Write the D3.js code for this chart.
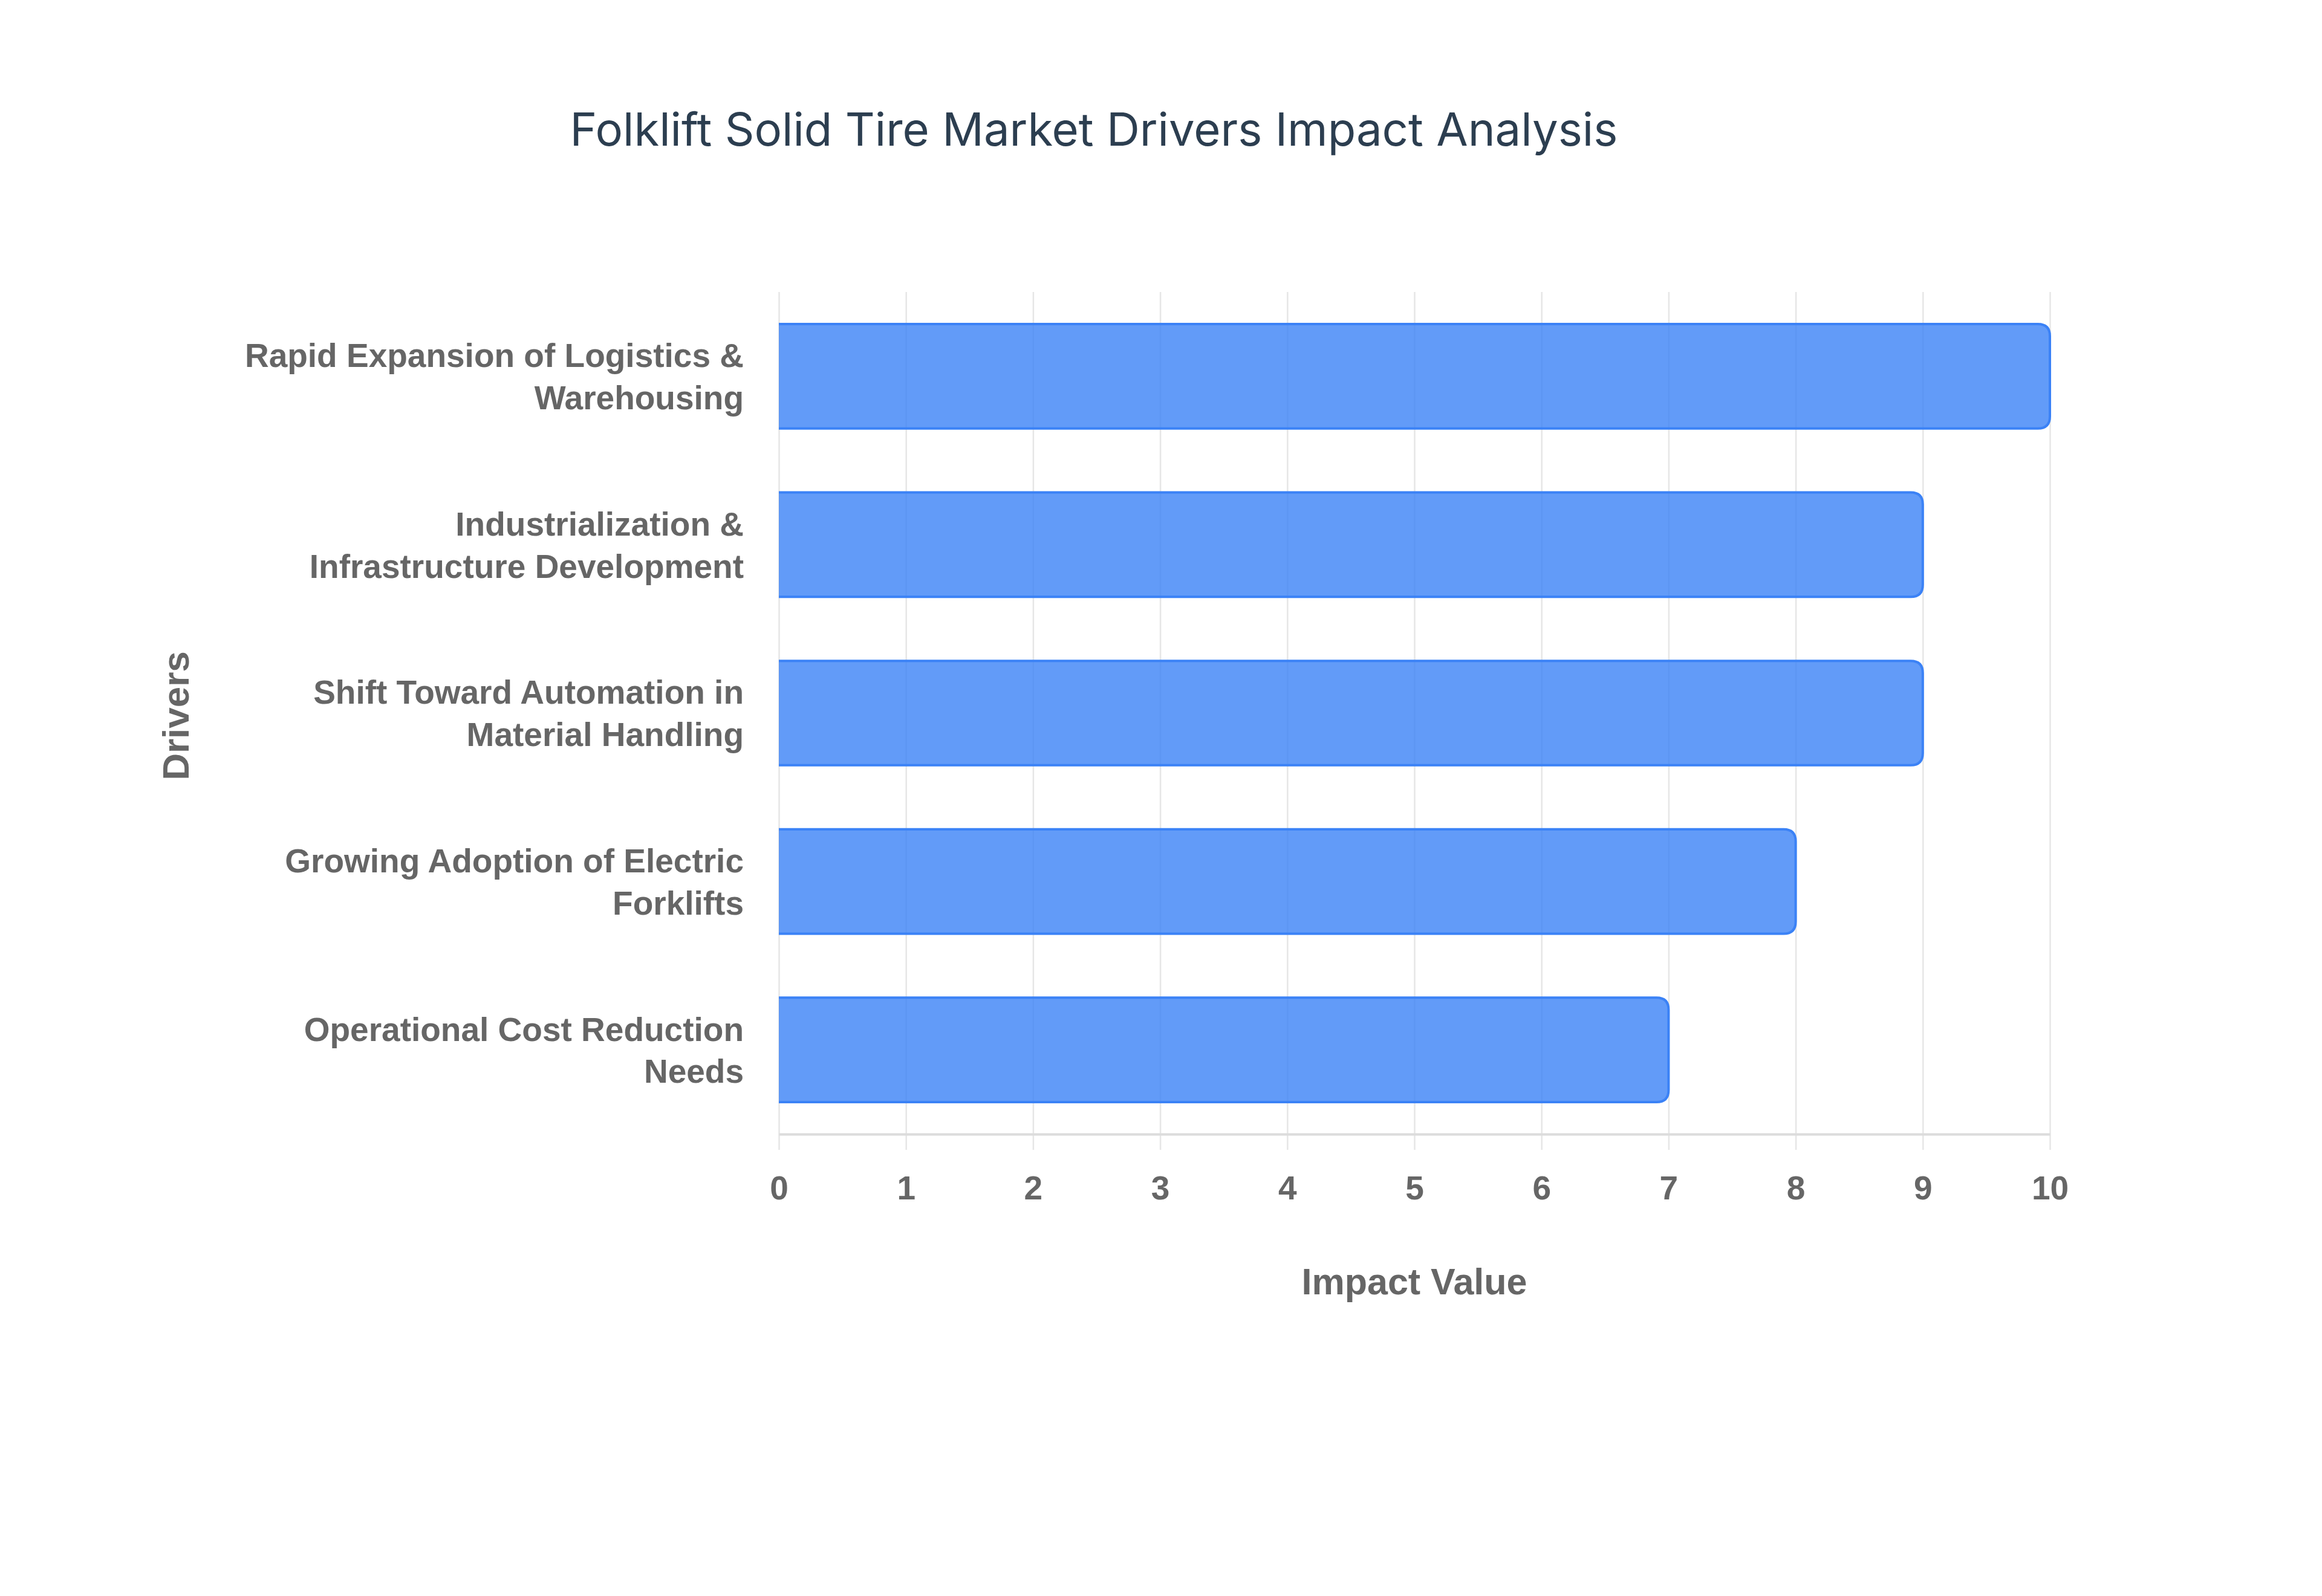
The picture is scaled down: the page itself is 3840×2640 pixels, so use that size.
<!DOCTYPE html>
<html>
<head>
<meta charset="utf-8">
<script src="https://cdn.jsdelivr.net/npm/d3@7"></script>
<style>
  html, body { margin: 0; padding: 0; background: #ffffff; }
  svg { display: block; }
</style>
</head>
<body>
<script>
// data
const drivers = [
    ['Rapid Expansion of Logistics &', 'Warehousing'],
    ['Industrialization &', 'Infrastructure Development'],
    ['Shift Toward Automation in', 'Material Handling'],
    ['Growing Adoption of Electric', 'Forklifts'],
    ['Operational Cost Reduction', 'Needs']
];
const impactValues = [10, 9, 9, 8, 7];
const xTicks = [0, 1, 2, 3, 4, 5, 6, 7, 8, 9, 10];

const chartTitle = 'Folklift Solid Tire Market Drivers Impact Analysis';
const xTitle = 'Impact Value';
const yTitle = 'Drivers';

// layout
const WIDTH = 3840;
const HEIGHT = 2640;
const PLOT = { left: 1288, right: 3390, top: 483, bottom: 1876 };
const LABEL_FONT = '"Liberation Sans", Arial, Helvetica, sans-serif';
const GREY = '#666666';

const svg = d3.select('body').append('svg')
    .attr('width', WIDTH)
    .attr('height', HEIGHT);

svg.append('rect')
    .attr('width', WIDTH)
    .attr('height', HEIGHT)
    .attr('fill', '#ffffff');

const rows = drivers.map((lines, i) => ({ key: lines.join(' '), lines: lines, value: impactValues[i] }));

const x = d3.scaleLinear().domain([0, 10]).range([PLOT.left, PLOT.right]);
const y = d3.scaleBand()
    .domain(rows.map(r => r.key))
    .range([PLOT.top, PLOT.bottom])
    .paddingInner(0.38)
    .paddingOuter(0.19);

// vertical grid lines (run a little past the axis as tick marks)
const grid = svg.append('g')
    .attr('transform', `translate(0,${PLOT.bottom + 26})`)
    .call(d3.axisBottom(x).tickValues(xTicks).tickFormat('')
        .tickSize(-(PLOT.bottom + 26 - PLOT.top)).tickSizeOuter(0));
grid.select('.domain').remove();
grid.selectAll('.tick line')
    .attr('stroke', '#e6e6e6')
    .attr('stroke-width', 2.5);

// bars, rounded at the value end only
const R = 20;
function barPath(d) {
    const x0 = x(0), x1 = x(d.value);
    const y0 = y(d.key), h = y.bandwidth();
    return `M${x0},${y0}H${x1 - R}Q${x1},${y0} ${x1},${y0 + R}` +
        `V${y0 + h - R}Q${x1},${y0 + h} ${x1 - R},${y0 + h}H${x0}Z`;
}
function barOutline(d) {
    const x0 = x(0), x1 = x(d.value);
    const y0 = y(d.key), h = y.bandwidth();
    return `M${x0},${y0}H${x1 - R}Q${x1},${y0} ${x1},${y0 + R}` +
        `V${y0 + h - R}Q${x1},${y0 + h} ${x1 - R},${y0 + h}H${x0}`;
}

const bars = svg.append('g').selectAll('g').data(rows).enter().append('g');
bars.append('path')
    .attr('d', barPath)
    .attr('fill', 'rgba(59,130,246,0.8)');
bars.append('path')
    .attr('d', barOutline)
    .attr('fill', 'none')
    .attr('stroke', 'rgb(59,130,246)')
    .attr('stroke-width', 4);

// x axis: baseline + tick labels
const xAxis = svg.append('g')
    .attr('transform', `translate(0,${PLOT.bottom})`)
    .call(d3.axisBottom(x).tickValues(xTicks).tickSize(0).tickSizeOuter(0).tickPadding(69));
xAxis.select('.domain')
    .attr('stroke', '#dcdcdc')
    .attr('stroke-width', 4);
xAxis.selectAll('.tick text')
    .attr('fill', GREY)
    .style('font-family', LABEL_FONT)
    .style('font-weight', 'bold')
    .style('font-size', '55px');

// y axis: wrapped category labels
const yAxis = svg.append('g')
    .attr('transform', `translate(${PLOT.left},0)`)
    .call(d3.axisLeft(y).tickSize(0).tickPadding(58));
yAxis.select('.domain').remove();
yAxis.selectAll('.tick text')
    .attr('fill', GREY)
    .style('font-family', LABEL_FONT)
    .style('font-weight', 'bold')
    .style('font-size', '55px')
    .attr('dy', null)
    .each(function (key) {
        const row = rows.find(r => r.key === key);
        const t = d3.select(this).text(null);
        const n = row.lines.length;
        row.lines.forEach((line, i) => {
            t.append('tspan')
                .attr('x', -58)
                .attr('y', (i - (n - 1) / 2) * 70)
                .attr('dy', '0.36em')
                .text(line);
        });
    });

// axis titles
svg.append('text')
    .attr('x', (PLOT.left + PLOT.right) / 2)
    .attr('y', 2141)
    .attr('text-anchor', 'middle')
    .attr('fill', GREY)
    .style('font-family', LABEL_FONT)
    .style('font-weight', 'bold')
    .style('font-size', '61px')
    .text(xTitle);

svg.append('text')
    .attr('transform', 'translate(312,1184) rotate(-90)')
    .attr('text-anchor', 'middle')
    .attr('fill', GREY)
    .style('font-family', LABEL_FONT)
    .style('font-weight', 'bold')
    .style('font-size', '62px')
    .text(yTitle);

// chart title
svg.append('text')
    .attr('x', 1809)
    .attr('y', 241)
    .attr('text-anchor', 'middle')
    .attr('fill', '#2c3e50')
    .style('font-family', 'Inter, "Noto Sans", sans-serif')
    .style('font-weight', 400)
    .style('font-size', '76px')
    .text(chartTitle);
</script>
</body>
</html>
